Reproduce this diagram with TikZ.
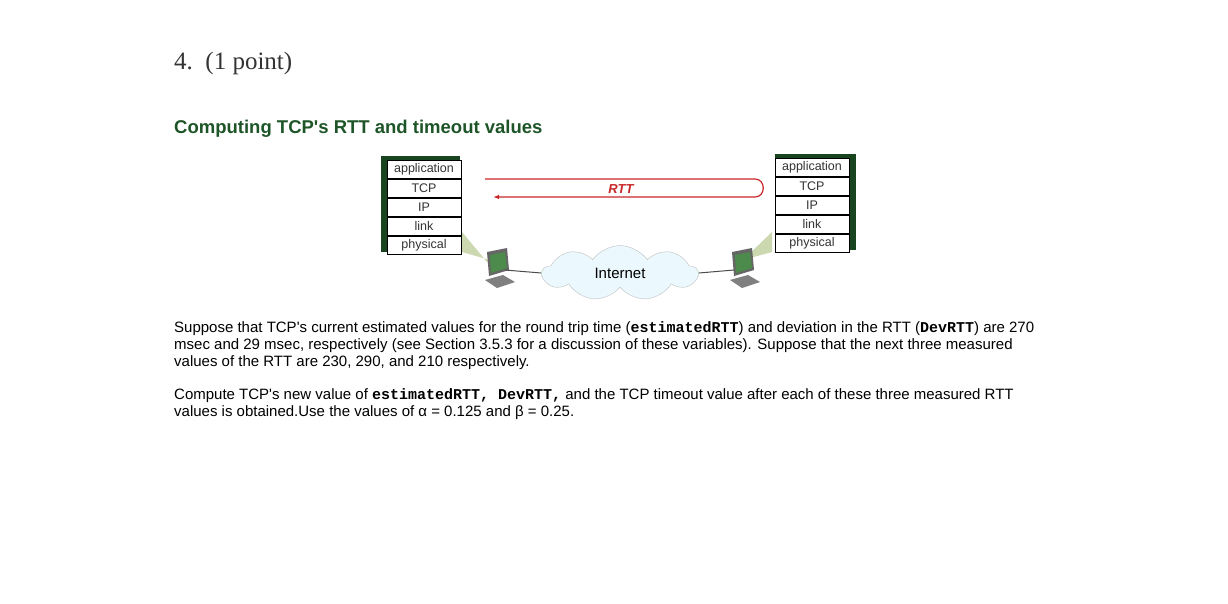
\documentclass[tikz,border=0pt]{standalone}
\usepackage{fontspec}
\setmainfont[Ligatures=NoCommon,Mapping=]{Liberation Sans}
\setmonofont{Liberation Mono}
\newfontfamily\serifx{Liberation Serif}
\usetikzlibrary{shapes.symbols,arrows.meta}
\definecolor{ttl}{RGB}{30,85,40}
\definecolor{rttred}{RGB}{200,40,40}
\definecolor{shadeg}{RGB}{150,175,90}
\newcommand{\sq}{\textquotesingle}
\begin{document}
\begin{tikzpicture}[x=1pt,y=-1pt,
  txt/.style={anchor=base west,inner sep=0pt,font=\fontsize{15}{17}\selectfont},
  layer/.style={draw=black,line width=1pt,fill=white,minimum width=74pt,minimum height=18pt,inner sep=0pt,font=\fontsize{12.5}{12.5}\selectfont,text=black!80},
  shadowbox/.style={fill=ttl!80!black},
  cable/.style={draw=black!70,line width=1pt}]
\useasboundingbox (0,0) rectangle (1228,603);
\fill[white] (0,0) rectangle (1228,603);
\node[anchor=base west,inner sep=0pt,font=\serifx\fontsize{25}{25}\selectfont,text=black!80] (q) at (174,69) {4.\ \ (1 point)};
\node[anchor=base west,inner sep=0pt,font=\bfseries\fontsize{18.5}{18.5}\selectfont,text=ttl] (title) at (174,133) {Computing TCP\sq s RTT and timeout values};
% shading
\fill[shadeg!60,opacity=0.8] (462,232) -- (462,252) -- (497,262) -- (487,262) -- cycle;
\fill[shadeg!60,opacity=0.8] (772,232) -- (772,252) -- (750,258) -- (745,258)-- cycle;
% left stack
\fill[shadowbox] (381,156) rectangle (460,252);
\foreach \t [count=\i] in {application,TCP,IP,link,physical}
  \node[layer] (L\i) at (424,{150+\i*19}) {\t};
% right stack
\fill[shadowbox] (775,154) rectangle (856,250);
\foreach \t [count=\i] in {application,TCP,IP,link,physical}
  \node[layer] (R\i) at (812,{148+\i*19}) {\t};
% computers
\foreach \n/\cx in {cl/497,cr/742}{
  \begin{scope}[shift={(\cx,270)}]
   \fill[black!60] (-10,-18) -- (10,-22) -- (12,0) -- (-8,6) -- cycle;
   \fill[green!35!black!70] (-7,-15) -- (8,-18) -- (10,-2) -- (-6,3) -- cycle;
   \fill[black!50] (-12,10) -- (6,5) -- (18,12) -- (0,18) -- cycle;
   \coordinate (\n) at (8,0);
  \end{scope}}
\node[cloud,cloud puffs=9,cloud puff arc=110,aspect=3,draw=black!25,fill=cyan!8,minimum width=155pt,minimum height=55pt,font=\fontsize{15}{15}\selectfont] (net) at (620,273) {Internet};
\draw[cable] (cl) -- (net.west);
\draw[cable] (net.east) -- (734,270);
% RTT
\coordinate (a) at (485,179);
\coordinate (b) at (493,197);
\draw[rttred,line width=1.2pt,-{Latex[length=6pt]}] (a) -- (755,179) .. controls (766,179) and (766,197) .. (755,197) -- (b);
\node[font=\bfseries\itshape\fontsize{13}{13}\selectfont,text=rttred] (rtt) at (621,189) {RTT};
% body text
\node[txt] (p1) at (174,332) {Suppose that TCP\sq s current estimated values for the round trip time (\textbf{\texttt{estimatedRTT}}) and deviation in the RTT (\textbf{\texttt{DevRTT}}) are 270};
\node[txt] (p2) at (174,349) {msec and 29 msec, respectively (see Section 3.5.3 for a discussion of these variables). Suppose that the next three measured};
\node[txt] (p3) at (174,366) {values of the RTT are 230, 290, and 210 respectively.};
\node[txt] (p4) at (174,399) {Compute TCP\sq s new value of \textbf{\texttt{estimatedRTT, DevRTT,}} and the TCP timeout value after each of these three measured RTT};
\node[txt] (p5) at (174,416) {values is obtained.Use the values of α = 0.125 and β = 0.25.};
\end{tikzpicture}
\end{document}
